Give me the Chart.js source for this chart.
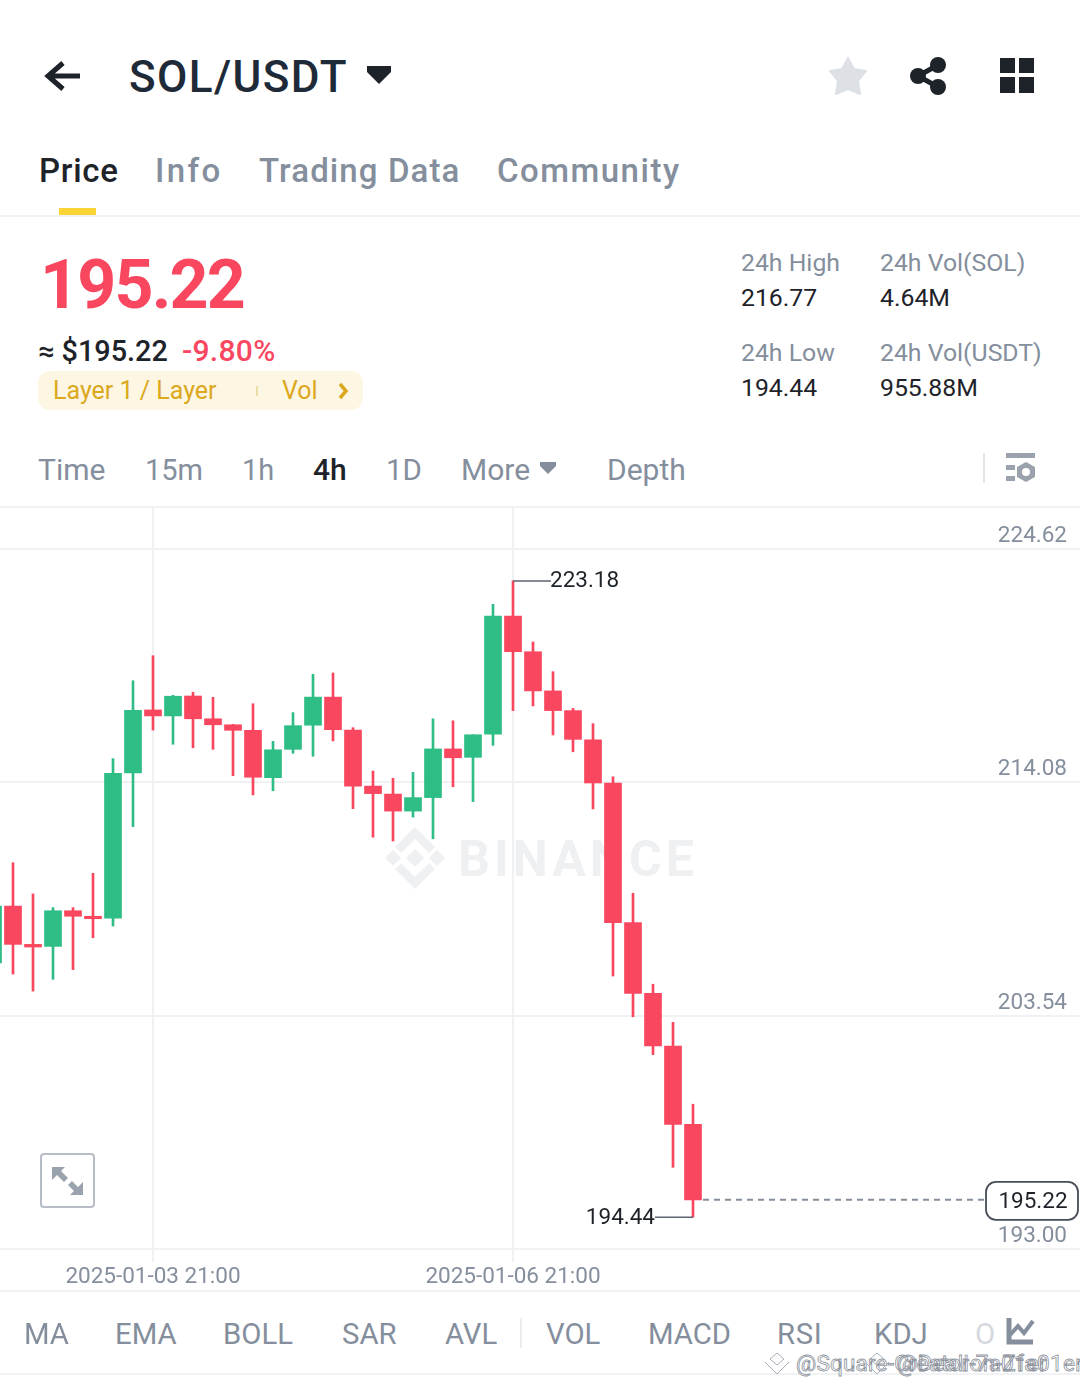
<!DOCTYPE html>
<html><head><meta charset="utf-8">
<script src="https://cdn.jsdelivr.net/npm/chart.js@4"></script>
<style>
html,body{margin:0;padding:0;background:#fff}
#page{position:relative;width:1080px;height:1385px;overflow:hidden;background:#fff;font-family:Roboto,sans-serif}
.t{position:absolute;white-space:nowrap;transform:translateY(-50%);line-height:1.2}
.g{color:#848E9C}.d{color:#1E2329}
.tab{font-size:33px;font-weight:500;letter-spacing:1.1px}
.stat{font-size:24.8px}
.ind{font-size:29.3px}
.line{position:absolute;left:0;width:1080px;height:2px;background:#F1F2F3}
svg{position:absolute;overflow:visible}
canvas{position:absolute;left:-17px;top:507px}
</style></head><body><div id="page">
<svg style="left:0;top:0" width="1080" height="140">
<path d="M80 76H50M63 63L48 76L63 89" fill="none" stroke="#1E2329" stroke-width="5"/>
<path d="M367 66H391V72L379 84L367 72Z" fill="#1E2329"/>
<path d="M848 58L854 69L866 71L858 81L860 94L848 89L836 94L838 81L830 71L842 69Z" fill="#DDE1E5" stroke="#DDE1E5" stroke-width="2" stroke-linejoin="round"/>
<path d="M938 65L918 76L938 87" fill="none" stroke="#1E2329" stroke-width="5"/>
<circle cx="938" cy="65" r="8" fill="#1E2329"/><circle cx="918" cy="76" r="8" fill="#1E2329"/><circle cx="938" cy="87" r="8" fill="#1E2329"/>
<path d="M1000 58h15v15h-15zM1019 58h15v15h-15zM1000 77h15v16h-15zM1019 77h15v16h-15z" fill="#1E2329"/>
</svg>
<div class="t" style="left:129px;top:77px;font-size:44px;font-weight:500;color:#1E2A38;letter-spacing:1.4px">SOL/USDT</div>

<div class="t d tab" style="left:39px;top:171px;letter-spacing:.7px">Price</div>
<div class="t g tab" style="left:155px;top:171px;letter-spacing:2.4px">Info</div>
<div class="t g tab" style="left:259px;top:171px">Trading Data</div>
<div class="t g tab" style="left:497px;top:171px;letter-spacing:1.5px">Community</div>
<div style="position:absolute;left:59px;top:208px;width:37px;height:8px;background:#FCD535"></div>
<div class="line" style="top:215px"></div>

<div class="t" style="left:40px;top:286px;font-size:68px;font-weight:700;color:#F8475F;letter-spacing:-1.8px">195.22</div>
<div class="t d" style="left:38px;top:351px;font-size:28.8px;font-weight:500">≈ $195.22</div>
<div class="t" style="left:182px;top:351px;font-size:30px;font-weight:500;color:#F8475F;letter-spacing:.3px">-9.80%</div>
<div style="position:absolute;left:38px;top:371px;width:325px;height:39px;background:#FDF6E3;border-radius:12px"></div>
<div class="t" style="left:53px;top:391px;font-size:25px;color:#DBA81E">Layer 1 / Layer</div>
<div style="position:absolute;left:256px;top:386px;width:2px;height:10px;background:#EBDDA8"></div>
<div class="t" style="left:282px;top:391px;font-size:25px;color:#DBA81E">Vol</div>
<svg style="left:0;top:0" width="400" height="420"><path d="M340 384L346 391L340 398" fill="none" stroke="#DBA81E" stroke-width="3.5"/></svg>

<div class="t g stat" style="left:741px;top:262.5px">24h High</div>
<div class="t d stat" style="left:741px;top:297.5px">216.77</div>
<div class="t g stat" style="left:741px;top:352.5px">24h Low</div>
<div class="t d stat" style="left:741px;top:387.5px">194.44</div>
<div class="t g stat" style="left:880px;top:262.5px">24h Vol(SOL)</div>
<div class="t d stat" style="left:880px;top:297.5px">4.64M</div>
<div class="t g stat" style="left:880px;top:352.5px">24h Vol(USDT)</div>
<div class="t d stat" style="left:880px;top:387.5px">955.88M</div>

<div class="t g" style="left:38px;top:470px;font-size:30px">Time</div>
<div class="t g" style="left:145px;top:470px;font-size:29px">15m</div>
<div class="t g" style="left:242px;top:470px;font-size:29px">1h</div>
<div class="t d" style="left:313px;top:470px;font-size:30px;font-weight:500">4h</div>
<div class="t g" style="left:386px;top:470.5px;font-size:29.5px">1D</div>
<div class="t g" style="left:461px;top:470px;font-size:30px">More</div>
<div class="t g" style="left:607px;top:470px;font-size:30px">Depth</div>
<svg style="left:0;top:440px" width="1080" height="60">
<path d="M540 22H556V26L548 34L540 26Z" fill="#848E9C"/>
<rect x="983" y="13" width="2" height="30" fill="#E3E5E8"/>
<rect x="1006" y="13" width="29" height="5" fill="#9AA2AD"/>
<rect x="1006" y="25" width="9" height="5" fill="#9AA2AD"/><rect x="1006" y="36" width="9" height="5" fill="#9AA2AD"/>
<path d="M1026 22L1035 27V37L1026 42L1017 37V27Z" fill="#9AA2AD"/><circle cx="1026" cy="32" r="4" fill="#fff"/>
</svg>
<div class="line" style="top:506px"></div>

<canvas id="c" width="1100" height="783"></canvas>

<div style="position:absolute;left:40px;top:1153px;width:51px;height:51px;border:2px solid #B7BDC6;border-radius:4px;background:#fff"></div>
<svg style="left:40px;top:1153px" width="55" height="55">
<path d="M12 14H25L21 18L28 25L24 29L17 22L12 27Z" fill="#9AA2AD"/>
<path d="M43 42H30L34 38L28 32L32 28L38 34L43 29Z" fill="#9AA2AD"/>
</svg>

<div class="line" style="top:1290px"></div>
<div class="t g ind" style="left:24px;top:1335px">MA</div>
<div class="t g ind" style="left:115px;top:1335px">EMA</div>
<div class="t g ind" style="left:223px;top:1335px">BOLL</div>
<div class="t g ind" style="left:342px;top:1335px">SAR</div>
<div class="t g ind" style="left:445px;top:1335px">AVL</div>
<div style="position:absolute;left:520px;top:1318px;width:2px;height:30px;background:#ECEDEF"></div>
<div class="t g ind" style="left:546px;top:1335px">VOL</div>
<div class="t g ind" style="left:648px;top:1335px">MACD</div>
<div class="t g ind" style="left:777px;top:1335px;letter-spacing:.6px">RSI</div>
<div class="t g ind" style="left:874px;top:1335px">KDJ</div>
<div class="t ind" style="left:975px;top:1335px;color:#D5D9DE">O</div>
<svg style="left:1000px;top:1315px" width="40" height="35">
<path d="M9 3V27H33" fill="none" stroke="#848E9C" stroke-width="5"/>
<path d="M10 20L18 11L24 18L33 6" fill="none" stroke="#848E9C" stroke-width="4"/>
</svg>
<div class="line" style="top:1373px"></div>

<svg style="left:765px;top:1352px" width="140" height="26">
<path d="M12 1L19 7L12 13L5 7ZM0 10L12 22L24 10" fill="#fff" stroke="#A9AFB8" stroke-width="1"/>
<path d="M112 1L119 7L112 13L105 7ZM100 10L112 22L124 10" fill="#fff" stroke="#A9AFB8" stroke-width="1"/>
</svg>
<div class="t" style="left:796px;top:1363px;font-size:22.5px;letter-spacing:.2px;color:#fff;-webkit-text-stroke:.8px #8B919B">@Square-Creator-7a01er</div>
<div class="t" style="left:897px;top:1363px;font-size:22.5px;letter-spacing:.4px;color:transparent;-webkit-text-stroke:.8px #8B919B">@Dealion-Zfa01er</div>
</div>
<script>
const candleTimes = [
'2025-01-02 13:00','2025-01-02 17:00','2025-01-02 21:00','2025-01-03 01:00','2025-01-03 05:00','2025-01-03 09:00',
'2025-01-03 13:00','2025-01-03 17:00','2025-01-03 21:00','2025-01-04 01:00','2025-01-04 05:00','2025-01-04 09:00',
'2025-01-04 13:00','2025-01-04 17:00','2025-01-04 21:00','2025-01-05 01:00','2025-01-05 05:00','2025-01-05 09:00',
'2025-01-05 13:00','2025-01-05 17:00','2025-01-05 21:00','2025-01-06 01:00','2025-01-06 05:00','2025-01-06 09:00',
'2025-01-06 13:00','2025-01-06 17:00','2025-01-06 21:00','2025-01-07 01:00','2025-01-07 05:00','2025-01-07 09:00',
'2025-01-07 13:00','2025-01-07 17:00','2025-01-07 21:00','2025-01-08 01:00','2025-01-08 05:00','2025-01-08 09:00'];
const opens  = [205.92,208.49,206.76,206.67,208.28,208.03,207.94,214.50,217.35,217.08,217.98,216.95,216.68,216.43,214.29,215.57,216.66,217.93,216.44,213.91,213.55,212.78,213.39,215.59,215.21,216.25,221.59,219.98,218.21,217.32,216.00,214.05,207.74,204.55,202.17,198.63];
const closes = [208.49,206.76,206.64,208.28,208.03,207.92,214.49,217.33,217.08,217.97,216.95,216.68,216.43,214.31,215.55,216.64,217.93,216.46,213.91,213.57,212.78,213.39,215.59,215.19,216.23,221.59,219.98,218.21,217.32,216.02,214.05,207.74,204.55,202.17,198.63,195.22];
const highs  = [208.49,210.45,209.04,208.42,208.42,209.97,215.15,218.67,219.80,218.01,218.15,217.92,216.70,217.63,215.93,217.23,218.96,219.02,216.55,214.59,214.26,214.53,216.95,216.86,216.23,222.12,223.18,220.42,219.08,217.42,216.73,214.33,209.07,204.96,203.24,199.54];
const lows   = [205.92,205.42,204.65,205.18,205.62,207.06,207.59,212.08,216.44,215.80,215.64,215.57,214.38,213.51,213.70,215.39,215.26,215.95,212.89,211.60,211.43,212.51,211.53,213.88,213.21,215.75,217.32,217.53,216.22,215.46,212.88,205.33,203.49,201.78,196.69,194.44];
const yTicks = [193.00,203.54,214.08,224.62];
const xTickLabels = ['2025-01-03 21:00','2025-01-06 21:00'];
const emptySlots = Array(19).fill('');
const highestLabel = 223.18, lowestLabel = 194.44, lastPrice = 195.22;

const UP='#2EBD85', DOWN='#F8475F', GRID='#F0F1F3';
const colorOf = ctx => closes[ctx.dataIndex] >= opens[ctx.dataIndex] ? UP : DOWN;
const categories = candleTimes.concat(emptySlots);

const overlay = {
  id:'overlay',
  beforeDatasetsDraw(chart){
    const c=chart.ctx;
    c.save();
    c.fillStyle='#EEF0F2';
    c.font='700 50px Roboto';
    c.letterSpacing='4px';
    c.textBaseline='middle';c.textAlign='left';
    c.fillText('BINANCE',458+17,858-507+5);
    c.letterSpacing='0px';
    const cx=415+17, cy=858-507;
    const dia=(x,y,r)=>{c.beginPath();c.moveTo(x,y-r);c.lineTo(x+r,y);c.lineTo(x,y+r);c.lineTo(x-r,y);c.closePath();c.fill();};
    dia(cx,cy,9);dia(cx-22,cy,8);dia(cx+22,cy,8);
    const chev=s=>{c.beginPath();c.moveTo(cx,cy+s*31);c.lineTo(cx+20,cy+s*11);c.lineTo(cx+14,cy+s*5);c.lineTo(cx,cy+s*19);c.lineTo(cx-14,cy+s*5);c.lineTo(cx-20,cy+s*11);c.closePath();c.fill();};
    chev(1);chev(-1);
    c.restore();
  },
  afterDatasetsDraw(chart){
    const c=chart.ctx,x=chart.scales.x,y=chart.scales.y;
    const hi=highs.indexOf(highestLabel), lo=lows.indexOf(lowestLabel);
    const hx=x.getPixelForValue(hi), hy=y.getPixelForValue(highestLabel);
    const lx=x.getPixelForValue(lo), ly=y.getPixelForValue(lowestLabel);
    const py=y.getPixelForValue(lastPrice);
    c.save();
    c.strokeStyle='#5E6673';c.lineWidth=1.5;
    c.beginPath();c.moveTo(hx,hy);c.lineTo(hx+38,hy);c.moveTo(lx,ly);c.lineTo(lx-38,ly);c.stroke();
    c.fillStyle='#1E2329';c.font='22.5px Roboto';c.textBaseline='middle';
    c.textAlign='left';c.fillText(highestLabel.toFixed(2),hx+37,hy);
    c.textAlign='right';c.fillText(lowestLabel.toFixed(2),lx-38,ly+1);
    c.setLineDash([6,5]);c.strokeStyle='#848E9C';c.lineWidth=2;
    c.beginPath();c.moveTo(lx+10,py);c.lineTo(1003,py);c.stroke();
    c.setLineDash([]);
    c.fillStyle='#fff';c.strokeStyle='#474D57';c.lineWidth=1.8;
    c.beginPath();c.roundRect(1003,py-18,92,38,10);c.fill();c.stroke();
    c.fillStyle='#1E2329';c.textAlign='center';c.fillText(lastPrice.toFixed(2),1050,py+3);
    c.restore();
  }
};

new Chart(document.getElementById('c'),{
  type:'bar',
  data:{labels:categories,datasets:[
    {label:'Body',data:opens.map((o,i)=>[o,closes[i]]),backgroundColor:colorOf,barThickness:17,grouped:false,borderSkipped:false,borderWidth:0},
    {label:'Wick',data:lows.map((l,i)=>[l,highs[i]]),backgroundColor:colorOf,barThickness:2,grouped:false,borderSkipped:false,borderWidth:0}
  ]},
  options:{
    responsive:false,animation:false,devicePixelRatio:1,
    layout:{padding:0},
    plugins:{legend:{display:false},tooltip:{enabled:false}},
    scales:{
      x:{
        type:'category',offset:true,
        afterFit(s){s.height=28;s.paddingLeft=0;s.paddingRight=0;},
        grid:{offset:false,drawTicks:false,lineWidth:2,color:ctx=>xTickLabels.includes(categories[ctx.index])?GRID:'rgba(0,0,0,0)'},
        border:{display:false},
        ticks:{autoSkip:false,maxRotation:0,minRotation:0,padding:2,color:'#848E9C',font:{family:'Roboto',size:22.5},
          callback(v){const l=this.getLabelForValue(v);return xTickLabels.includes(l)?l:'';}}
      },
      y:{
        type:'linear',position:'right',min:192.413,max:226.517,
        afterBuildTicks(s){s.ticks=yTicks.map(v=>({value:v}));},
        afterFit(s){s.width=0;s.paddingTop=0;s.paddingBottom=0;},
        grid:{drawTicks:false,lineWidth:2,color:GRID},
        border:{display:false},
        ticks:{mirror:true,padding:-16,color:'#848E9C',font:{family:'Roboto',size:22.5,lineHeight:1.12},
          callback(v){return [Number(v).toFixed(2),''];}}
      }
    }
  },
  plugins:[overlay]
});
</script></body></html>
